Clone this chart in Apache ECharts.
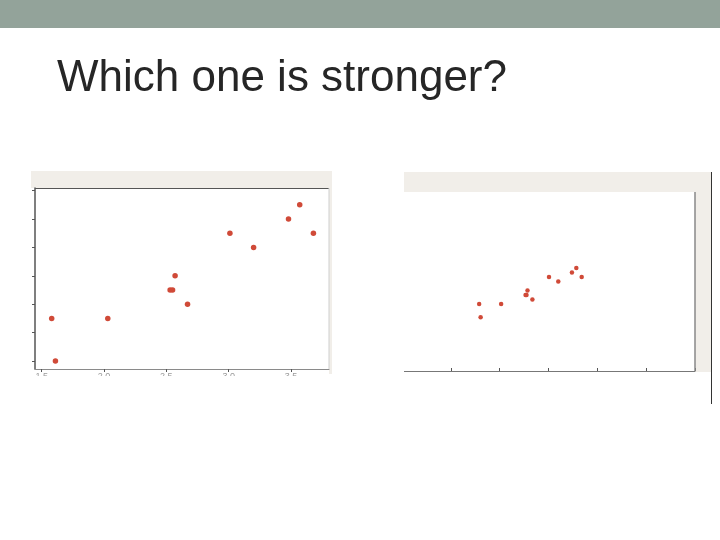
<!DOCTYPE html>
<html>
<head>
<meta charset="utf-8">
<script src="https://cdn.jsdelivr.net/npm/echarts@6/dist/echarts.min.js"></script>
<style>
html,body{margin:0;padding:0;background:#fff;}
#main{width:720px;height:540px;}
</style>
</head>
<body>
<div id="main"></div>
<script>
// Data (same observations shown on two different scales)
const xValues = [1.58, 1.61, 2.03, 2.53, 2.55, 2.57, 2.67, 3.01, 3.20, 3.48, 3.57, 3.68];
const yValues = [7.5, 6, 7.5, 8.5, 8.5, 9, 8, 10.5, 10, 11, 11.5, 10.5];
const leftXTicks = [1.5, 2.0, 2.5, 3.0, 3.5];
const leftXLabels = ['1.5', '2.0', '2.5', '3.0', '3.5'];
const leftYTicks = [6, 7, 8, 9, 10, 11, 12];
const rightXTicks = [1, 2, 3, 4, 5, 6];
const titleText = 'Which one is stronger?';

const points = xValues.map((x, i) => [x, yValues[i]]);

const chart = echarts.init(document.getElementById('main'), null, {renderer: 'canvas'});

const panelGray = '#f1eee9';
const dotColor = '#d04a38';

chart.setOption({
  backgroundColor: '#ffffff',
  animation: false,
  graphic: [
    {type: 'rect', shape: {x: 0, y: 0, width: 720, height: 28}, style: {fill: '#93a39a'}, z: 1},
    {type: 'text', x: 57, y: 101, style: {text: titleText, font: '44px "Liberation Sans", Arial, sans-serif', fill: '#262626', textVerticalAlign: 'bottom'}, z: 1},
    // left panel chrome
    {type: 'rect', shape: {x: 31, y: 171, width: 301, height: 17}, style: {fill: panelGray}, z: -1},
    {type: 'rect', shape: {x: 329, y: 188, width: 3, height: 186}, style: {fill: panelGray}, z: -1},
    {type: 'line', shape: {x1: 35, y1: 188.5, x2: 329, y2: 188.5}, style: {stroke: '#555', lineWidth: 1}, z: 5},
    {type: 'line', shape: {x1: 329, y1: 188, x2: 329, y2: 369}, style: {stroke: '#cfcfcf', lineWidth: 1}, z: 5},
    // clip left panel bottom labels
    {type: 'rect', shape: {x: 0, y: 376, width: 400, height: 40}, style: {fill: '#ffffff'}, z: 100},
    // right panel chrome
    {type: 'rect', shape: {x: 404, y: 172, width: 307, height: 20}, style: {fill: panelGray}, z: -1},
    {type: 'rect', shape: {x: 695, y: 192, width: 16, height: 180}, style: {fill: panelGray}, z: -1},
    {type: 'line', shape: {x1: 695, y1: 192, x2: 695, y2: 371}, style: {stroke: '#888', lineWidth: 1.5}, z: 5},
    {type: 'line', shape: {x1: 711.5, y1: 172, x2: 711.5, y2: 404}, style: {stroke: '#333', lineWidth: 1}, z: 5},
    {type: 'rect', shape: {x: 396, y: 160, width: 8, height: 230}, style: {fill: '#ffffff'}, z: 100}
  ],
  grid: [
    {left: 35, top: 188, width: 294, height: 181, containLabel: false},
    {left: 402, top: 192, width: 293, height: 179, containLabel: false}
  ],
  xAxis: [
    {
      type: 'value', gridIndex: 0, min: 1.446, max: 3.805,
      splitLine: {show: false},
      axisLine: {show: true, lineStyle: {color: '#8a8a8a', width: 1}},
      axisTick: {show: true, length: 3, customValues: leftXTicks, lineStyle: {color: '#555'}},
      axisLabel: {show: true, customValues: leftXTicks, formatter: v => leftXLabels[leftXTicks.indexOf(v)] || '', color: '#9a9a9a', fontSize: 9, margin: 3, fontFamily: 'Liberation Sans'}
    },
    {
      type: 'value', gridIndex: 1, min: 0, max: 6,
      splitLine: {show: false},
      axisLine: {show: true, lineStyle: {color: '#777', width: 1}},
      axisTick: {show: true, inside: true, length: 3, customValues: rightXTicks, lineStyle: {color: '#555'}},
      axisLabel: {show: false}
    }
  ],
  yAxis: [
    {
      type: 'value', gridIndex: 0, min: 5.72, max: 12.09,
      splitLine: {show: false},
      axisLine: {show: true, lineStyle: {color: '#555', width: 1.5}},
      axisTick: {show: true, length: 3, customValues: leftYTicks, lineStyle: {color: '#555'}},
      axisLabel: {show: false}
    },
    {
      type: 'value', gridIndex: 1, min: 0, max: 20,
      splitLine: {show: false},
      axisLine: {show: false},
      axisTick: {show: false},
      axisLabel: {show: false}
    }
  ],
  series: [
    {type: 'scatter', xAxisIndex: 0, yAxisIndex: 0, data: points, symbolSize: 5.5, itemStyle: {color: dotColor, opacity: 1}, z: 3},
    {type: 'scatter', xAxisIndex: 1, yAxisIndex: 1, data: points, symbolSize: 4.5, itemStyle: {color: dotColor, opacity: 1}, z: 3}
  ]
});
</script>
</body>
</html>
